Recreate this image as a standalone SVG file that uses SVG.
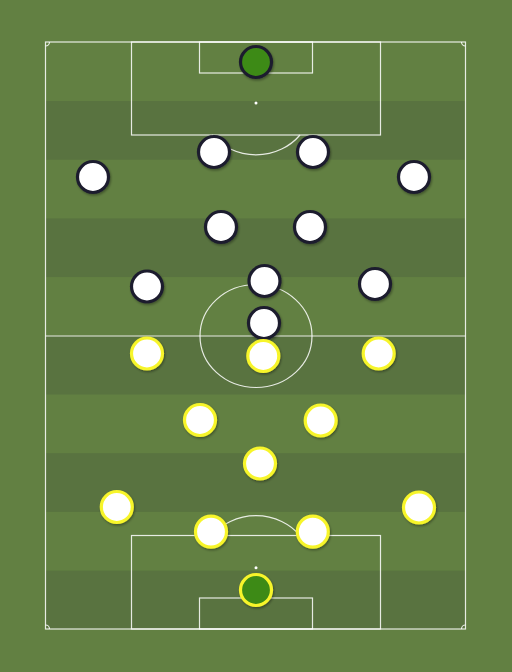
<svg xmlns="http://www.w3.org/2000/svg" width="512" height="672" viewBox="0 0 512 672">
<defs>
<style>
.line{fill:none;stroke:#ffffff;stroke-opacity:0.85;stroke-width:1.2}
.stripe{fill:#597340}
.p{stroke-width:3.2;filter:url(#sh)}
.away{fill:#ffffff;stroke:#1e1e2e}
.home{fill:#ffffff;stroke:#f7f52a}
.gk{fill:#3d8a17}
</style>
<filter id="sh" x="-30%" y="-30%" width="160%" height="160%">
<feDropShadow dx="1" dy="1.5" stdDeviation="1.2" flood-color="#000" flood-opacity="0.35"/>
</filter>
</defs>
<rect x="0" y="0" width="512" height="672" fill="#628042"/>
<g id="stripes">
<rect class="stripe" x="45.5" y="101" width="420" height="58.7"/>
<rect class="stripe" x="45.5" y="218.4" width="420" height="58.7"/>
<rect class="stripe" x="45.5" y="335.8" width="420" height="58.7"/>
<rect class="stripe" x="45.5" y="453.2" width="420" height="58.7"/>
<rect class="stripe" x="45.5" y="570.6" width="420" height="58.4"/>
</g>
<g id="pitch-lines">
<rect class="line" x="45.5" y="42" width="420" height="587"/>
<line class="line" x1="45.5" y1="336" x2="465.5" y2="336"/>
<ellipse class="line" cx="256" cy="336" rx="56" ry="51.5"/>
<rect class="line" x="131.5" y="42" width="249" height="93"/>
<rect class="line" x="199.5" y="42" width="113" height="31"/>
<rect class="line" x="131.5" y="535.5" width="249" height="93.5"/>
<rect class="line" x="199.5" y="598" width="113" height="31"/>
<path class="line" d="M212,135 A56,52 0 0 0 300,135"/>
<path class="line" d="M212,535.5 A56,52 0 0 1 300,535.5"/>
<circle cx="256" cy="103" r="1.5" fill="#fff"/>
<circle cx="256" cy="567.7" r="1.5" fill="#fff"/>
<path class="line" d="M45.5,46 A4,4 0 0 0 49.5,42"/>
<path class="line" d="M461.5,42 A4,4 0 0 0 465.5,46"/>
<path class="line" d="M45.5,625 A4,4 0 0 1 49.5,629"/>
<path class="line" d="M461.5,629 A4,4 0 0 1 465.5,625"/>
</g>
<g id="connectors"></g>
<g id="away-team">
<circle id="a1" class="p away gk" cx="256" cy="62" r="15.5"/>
<circle id="a2" class="p away" cx="214" cy="152" r="15.5"/>
<circle id="a3" class="p away" cx="313" cy="152" r="15.5"/>
<circle id="a4" class="p away" cx="93" cy="177" r="15.5"/>
<circle id="a5" class="p away" cx="414" cy="177" r="15.5"/>
<circle id="a6" class="p away" cx="221" cy="227" r="15.5"/>
<circle id="a7" class="p away" cx="310" cy="227" r="15.5"/>
<circle id="a8" class="p away" cx="147" cy="286.5" r="15.5"/>
<circle id="a9" class="p away" cx="264.5" cy="281" r="15.5"/>
<circle id="a10" class="p away" cx="375" cy="284" r="15.5"/>
<circle id="a11" class="p away" cx="264" cy="323" r="15.5"/>
</g>
<g id="home-team">
<circle id="h1" class="p home" cx="147" cy="353.5" r="15.5"/>
<circle id="h2" class="p home" cx="263.3" cy="356" r="15.5"/>
<circle id="h3" class="p home" cx="378.7" cy="353.5" r="15.5"/>
<circle id="h4" class="p home" cx="200" cy="420" r="15.5"/>
<circle id="h5" class="p home" cx="320.7" cy="420.5" r="15.5"/>
<circle id="h6" class="p home" cx="260" cy="463.5" r="15.5"/>
<circle id="h7" class="p home" cx="116.8" cy="507" r="15.5"/>
<circle id="h8" class="p home" cx="419" cy="507.5" r="15.5"/>
<circle id="h9" class="p home" cx="211" cy="531.7" r="15.5"/>
<circle id="h10" class="p home" cx="312.8" cy="531.7" r="15.5"/>
<circle id="h11" class="p home gk" cx="256" cy="590" r="15.5"/>
</g>
</svg>
